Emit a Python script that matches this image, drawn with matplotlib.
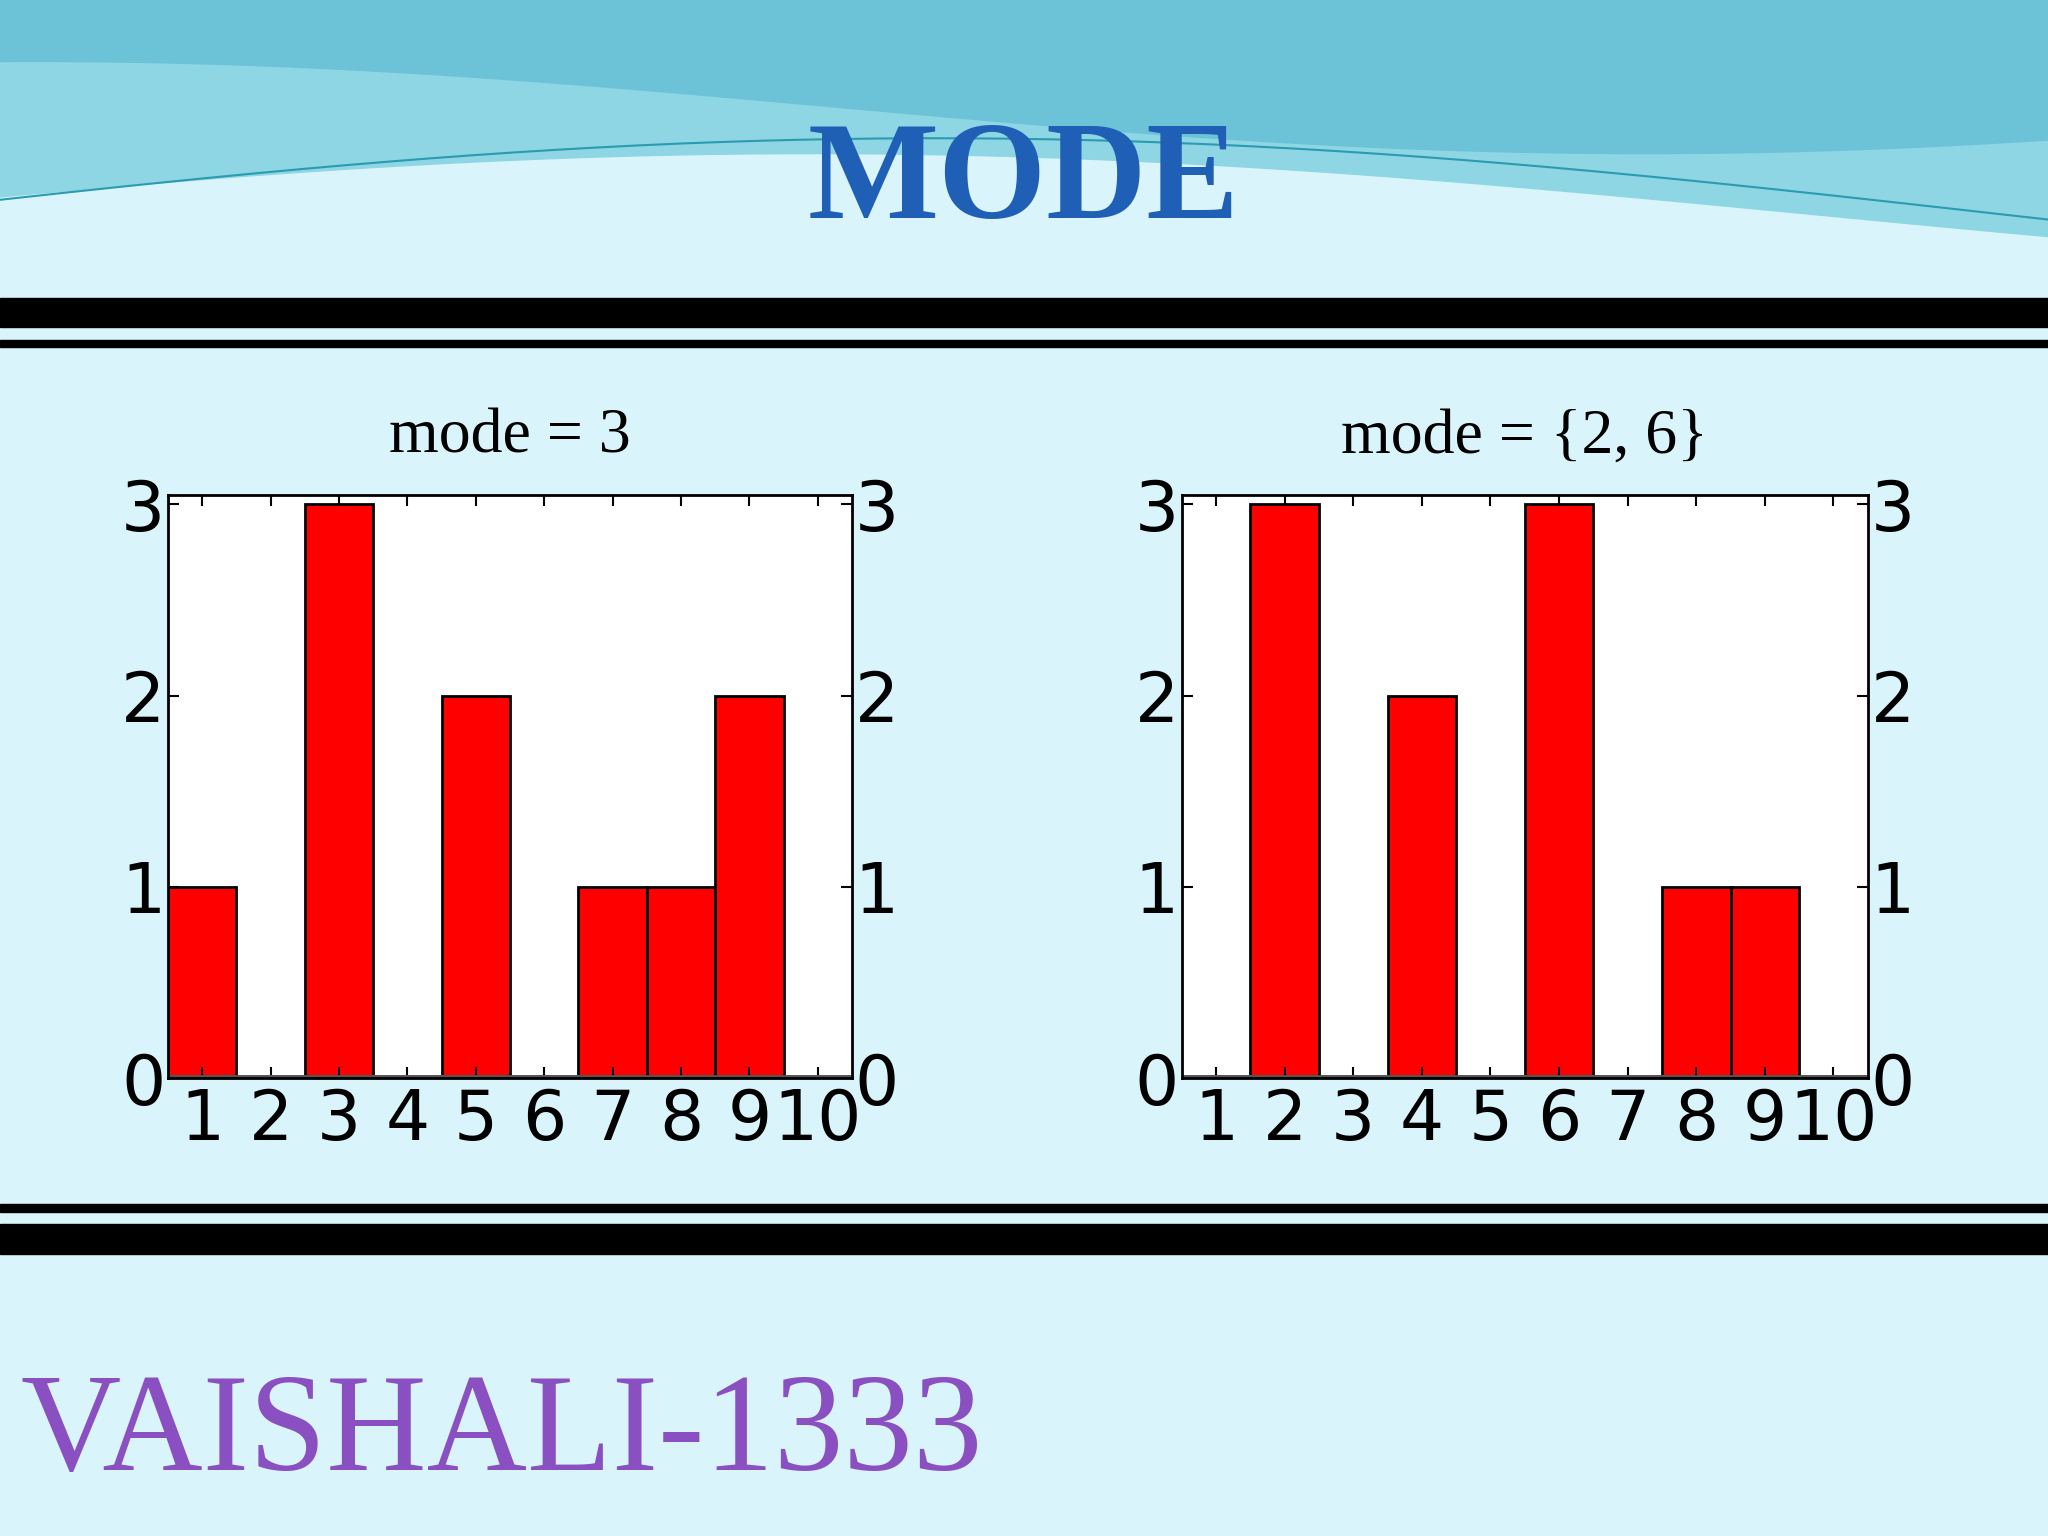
import numpy as np
import matplotlib
matplotlib.use("Agg")
from matplotlib import pyplot as plt
from matplotlib.patches import Rectangle

positions = [1, 2, 3, 4, 5, 6, 7, 8, 9, 10]
left_counts = [1, 0, 3, 0, 2, 0, 1, 1, 2, 0]
right_counts = [0, 3, 0, 2, 0, 3, 0, 1, 1, 0]
left_title = "mode = 3"
right_title = "mode = {2, 6}"

fig = plt.figure(figsize=(20.48, 15.36), dpi=100)
fig.patch.set_facecolor("#d9f5fb")

# decorative background layer (wave + black stripes)
bg = fig.add_axes([0, 0, 1, 1])
bg.set_xlim(0, 1)
bg.set_ylim(0, 1)
bg.axis("off")
xs = np.linspace(0, 1, 200)
bg.fill_between(xs, 1, 0.86 + 0.04 * np.sin(xs * 3.2 + 0.3), color="#8fd6e4")
bg.fill_between(xs, 1, 0.93 + 0.03 * np.sin(xs * 4 + 1.5), color="#6cc3d8")
bg.plot(xs, 0.86 + 0.05 * np.sin(xs * 3.0 + 0.2), color="#2a9bb0", lw=1.5)
for y0, h in [(1 - 250 / 1176, 22 / 1176), (1 - 266 / 1176, 6 / 1176),
              (1 - 928 / 1176, 6 / 1176), (1 - 960 / 1176, 23 / 1176)]:
    bg.add_patch(Rectangle((0, y0), 1, h, color="black"))

fig.text(0.50, 0.88, "MODE", ha="center", va="center", fontsize=100,
         family="Liberation Serif", weight="bold", color="#1f5fb5")
fig.text(0.01, 0.065, "VAISHALI-1333", ha="left", va="center", fontsize=100,
         family="Liberation Serif", color="#8a4fc0")


def draw(rect, counts, title):
    ax = fig.add_axes(rect)
    ax.set_facecolor("white")
    ax.bar(positions, counts, width=1, color="red", edgecolor="black", linewidth=2)
    ax.axhline(0, color="#555555", lw=5)
    ax.set_xlim(0.5, 10.5)
    ax.set_ylim(0, 3.05)
    ax.set_xticks(positions)
    ax.set_yticks([0, 1, 2, 3])
    ax.tick_params(direction="in", length=8, width=1.5, labelsize=50,
                   top=True, right=True, labelright=True, pad=2)
    ax.tick_params(axis="x", pad=6)
    for lab in ax.get_xticklabels() + ax.get_yticklabels():
        lab.set_family("Liberation Sans Narrow")
    for s in ax.spines.values():
        s.set_linewidth(2)
    ax.set_title(title, fontsize=46, family="Liberation Serif", pad=30)


draw([0.082, 0.298, 0.334, 0.38], left_counts, left_title)
draw([0.577, 0.298, 0.335, 0.38], right_counts, right_title)

fig.savefig("out.png", dpi=100, facecolor=fig.get_facecolor())
